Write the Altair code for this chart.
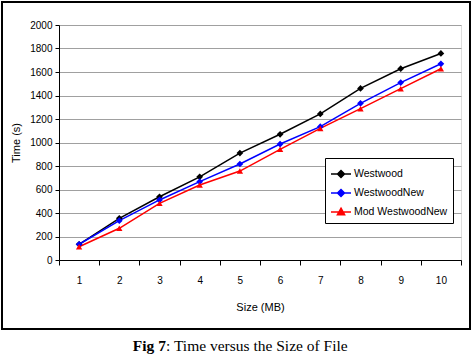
import altair as alt
import pandas as pd

sizes = [1, 2, 3, 4, 5, 6, 7, 8, 9, 10]
westwood = [134, 355, 538, 708, 910, 1070, 1243, 1460, 1628, 1758]
westwood_new = [134, 335, 511, 667, 817, 987, 1135, 1333, 1510, 1670]
mod_westwood_new = [113, 270, 482, 638, 757, 942, 1120, 1288, 1458, 1628]
series_names = ["Westwood", "WestwoodNew", "Mod WestwoodNew"]
series_colors = ["#000000", "#0000ff", "#ff0000"]
y_ticks = [0, 200, 400, 600, 800, 1000, 1200, 1400, 1600, 1800, 2000]

rows = []
for name, vals in zip(series_names, [westwood, westwood_new, mod_westwood_new]):
    for s, v in zip(sizes, vals):
        rows.append({"Size": s, "Time": v, "Series": name})
df = pd.DataFrame(rows)

SANS = "Liberation Sans"
DIAMOND_LEG = "M-1,0H1M0,-0.35L0.35,0L0,0.35L-0.35,0Z"
TRI_LEG = "M-1,0H1M0,-0.38L0.36,0.28L-0.36,0.28Z"

color = alt.Color(
    "Series:N",
    scale=alt.Scale(domain=series_names, range=series_colors),
    legend=alt.Legend(
        title=None,
        orient="none",
        legendX=266,
        legendY=133,
        strokeColor="#000000",
        fillColor="#ffffff",
        padding=5,
        symbolSize=400,
        symbolStrokeWidth=1.5,
        rowPadding=1,
        labelOffset=2,
        labelFont=SANS,
        labelFontSize=10.5,
        labelColor="#000000",
        cornerRadius=0,
        symbolType=alt.ExprRef(
            expr=f"datum.value == 'Mod WestwoodNew' ? '{TRI_LEG}' : '{DIAMOND_LEG}'"
        ),
        symbolFillColor=alt.ExprRef(expr="scale('color', datum.value)"),
        symbolStrokeColor=alt.ExprRef(expr="scale('color', datum.value)"),
        symbolOpacity=1,
    ),
)

x_enc = alt.X(
    "Size:O",
    title="Size (MB)",
    axis=alt.Axis(
        labelAngle=0,
        tickBand="extent",
        grid=False,
        domainColor="#000000",
        tickColor="#000000",
        tickSize=5,
        labelPadding=10,
        titlePadding=16,
        titleFontWeight="normal",
    ),
)
y_enc = alt.Y(
    "Time:Q",
    title="Time (s)",
    scale=alt.Scale(domain=[0, 2000], nice=False),
    axis=alt.Axis(
        values=y_ticks,
        format="d",
        labelOverlap=False,
        grid=True,
        gridColor="#a0a0a0",
        domainColor="#000000",
        tickColor="#000000",
        tickSize=4,
        labelPadding=3,
        titlePadding=8,
        titleFontWeight="normal",
    ),
)

base = alt.Chart(df).encode(x=x_enc, y=y_enc, color=color)

lines = base.mark_line(strokeWidth=1.5)

diamonds = base.transform_filter(
    alt.FieldOneOfPredicate(field="Series", oneOf=["Westwood", "WestwoodNew"])
).mark_point(filled=True, size=45, opacity=1, shape="diamond")

triangles = base.transform_filter(
    alt.FieldEqualPredicate(field="Series", equal="Mod WestwoodNew")
).mark_point(filled=True, size=40, opacity=1, shape="triangle-up")

frame_df = pd.DataFrame({"k": [0]})
frame = alt.Chart(frame_df).mark_rect(fill=None, stroke="#000000", strokeWidth=2).encode(
    x=alt.value(-57), x2=alt.value(411), y=alt.value(-23), y2=alt.value(304)
)

cap1 = alt.Chart(frame_df).mark_text(
    text="Fig 7", font="Liberation Serif", fontSize=15.5, fontWeight="bold", align="right", baseline="middle", color="#000000"
).encode(x=alt.value(107), y=alt.value(321))
cap2 = alt.Chart(frame_df).mark_text(
    text=": Time versus the Size of File", font="Liberation Serif", fontSize=15.5, align="left", baseline="middle", color="#000000"
).encode(x=alt.value(107), y=alt.value(321))

chart = (
    alt.layer(lines, diamonds, triangles, frame, cap1, cap2)
    .properties(
        width=402,
        height=235,
        autosize=alt.AutoSizeParams(type="none"),
        padding={"left": 59, "top": 25, "right": 13, "bottom": 95},
    )
    .configure_view(stroke="#a0a0a0")
    .configure_axis(
        labelFont=SANS,
        labelFontSize=10.5,
        labelColor="#000000",
        titleFont=SANS,
        titleFontSize=11,
        titleFontWeight="normal",
        titleColor="#000000",
    )
    .configure(background="#ffffff")
)

chart.save("out.html", embed_options={"renderer": "svg", "actions": False})
